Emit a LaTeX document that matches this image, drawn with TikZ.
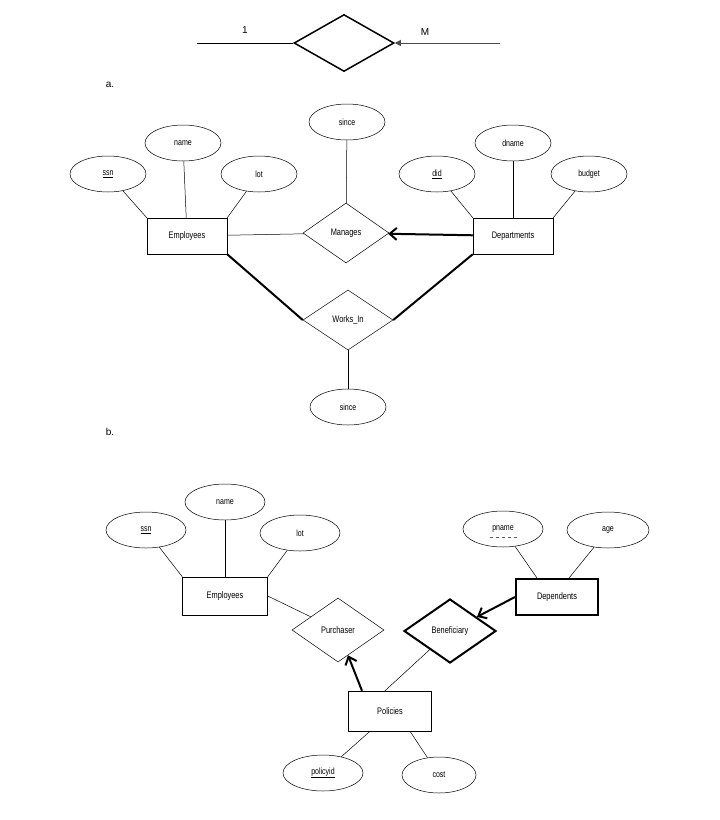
\documentclass[tikz,border=0pt]{standalone}
\usepackage{fontspec}
\setmainfont{Liberation Sans}
\newfontfamily\narrowf[FakeStretch=0.78]{Liberation Sans}
\usetikzlibrary{shapes.geometric,arrows.meta}
\begin{document}
\begin{tikzpicture}[x=1pt,y=-1pt,
 attr/.style={ellipse,draw,line width=0.5pt,minimum width=76pt,minimum height=36pt,inner sep=0pt,font=\narrowf\fontsize{9}{10}\selectfont},
 ent/.style={rectangle,draw,line width=0.5pt,minimum width=80pt,minimum height=36pt,font=\narrowf\fontsize{9.5}{11}\selectfont},
 rel/.style={diamond,draw,line width=0.5pt,aspect=1.45,minimum width=88pt,minimum height=60pt,inner sep=0pt,font=\narrowf\fontsize{9.5}{11}\selectfont},
 thin/.style={line width=0.5pt},
 thk/.style={line width=2pt},
 barb/.style={-{Straight Barb[length=7pt,width=12pt,line width=2pt]}},
 lbl/.style={font=\fontsize{10}{12}\selectfont}]
\useasboundingbox (0,0) rectangle (720,820);
% top
\node[diamond,draw,line width=1.5pt,aspect=1.75,minimum width=100pt,minimum height=57pt,inner sep=0pt] (d) at (344,43) {};
\coordinate (l1) at (197,43);
\coordinate (r1) at (500,43);
\draw[line width=1pt] (l1) -- (d.west);
\draw[line width=1pt,gray!60!black,-{Triangle[length=6pt,width=6pt]}] (r1) -- (d.east);
\node[lbl] (one) at (245,30) {1};
\node[lbl] (mm) at (425,32) {M};
\node[lbl] (la) at (110,85) {a.};
% part a
\node[attr] (s1) at (347,122) {since};
\node[attr] (n1) at (183,143) {name};
\node[attr] (ssn1) at (108,174) {\underline{ssn}};
\node[attr] (lot1) at (259,174) {lot};
\node[ent] (e1) at (187,236) {Employees};
\node[rel,minimum width=86pt] (man) at (346,233) {Manages};
\node[ent] (dep) at (513,236) {Departments};
\node[attr] (dn) at (513,143) {dname};
\node[attr] (did) at (437,174) {\underline{did}};
\node[attr] (bud) at (589,174) {budget};
\node[rel,minimum width=90pt] (wi) at (348,320) {Works\_In};
\node[attr] (s2) at (348,407) {since};
\draw[thin] (n1) -- (e1);
\draw[thin] (ssn1) -- (e1.north west);
\draw[thin] (lot1) -- (e1.north east);
\draw[thin] (dn) -- (dep);
\draw[thin] (did) -- (dep.north west);
\draw[thin] (bud) -- (dep.north east);
\draw[thin] (s1) -- (man);
\draw[thin] (s2) -- (wi);
\draw[thin] (e1) -- (man);
\draw[thk,barb] (dep) -- (man);
\draw[thk] (e1.south east) -- (wi.west);
\draw[thk] (dep.south west) -- (wi.east);
\node[lbl] (lb) at (110,432) {b.};
% part b
\node[attr,minimum width=80pt] (n2) at (225,502) {name};
\node[attr,minimum width=80pt] (ssn2) at (146,530) {\underline{ssn}};
\node[attr,minimum width=80pt] (lot2) at (300,533) {lot};
\node[ent,minimum width=85pt,minimum height=38pt] (e2) at (225,596) {Employees};
\node[rel,minimum width=92pt,minimum height=64pt] (pur) at (338,630) {Purchaser};
\node[ent,line width=2pt,minimum width=82pt,minimum height=36pt] (dp) at (557,597) {Dependents};
\node[attr,minimum width=80pt] (pn) at (503,529) {pname};
\draw[dash pattern=on 3pt off 3pt,line width=0.5pt,gray!70!black] ([xshift=-13pt,yshift=-8pt]pn.center) -- ([xshift=14pt,yshift=-8pt]pn.center);
\node[attr,minimum width=82pt] (age) at (608,530) {age};
\node[rel,line width=2pt,minimum width=92pt,minimum height=64pt] (ben) at (450,631) {Beneficiary};
\node[ent,minimum width=83pt,minimum height=40pt] (pol) at (390,711) {Policies};
\node[attr,minimum width=80pt] (pid) at (323,773) {\underline{policyid}};
\node[attr,minimum width=74pt] (cost) at (439,775) {cost};
\draw[thin] (n2) -- (e2);
\draw[thin] (ssn2) -- (e2.north west);
\draw[thin] (lot2) -- (e2.north east);
\draw[thin] (pn) -- ([xshift=-20pt]dp.north);
\draw[thin] (age) -- ([xshift=12pt]dp.north);
\draw[thin] (e2.east) -- (pur);
\draw[thk,barb] ([xshift=-28pt]pol.north) -- (pur);
\draw[thin] ([xshift=-5pt]pol.north) -- (ben);
\draw[thk,barb] (dp.west) -- (ben);
\draw[thin] (pid) -- ([xshift=-20pt]pol.south);
\draw[thin] (cost) -- ([xshift=20pt]pol.south);
\end{tikzpicture}
\end{document}
